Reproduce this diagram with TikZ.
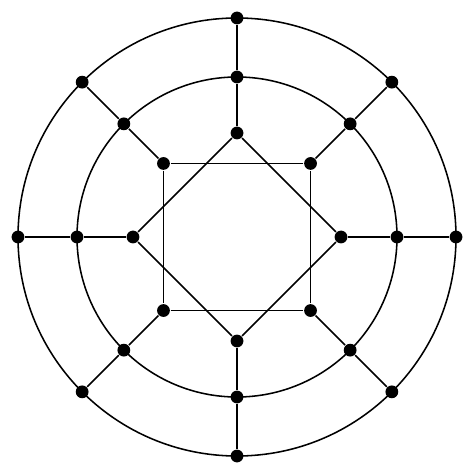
\documentclass[tikz,border=0pt]{standalone}
\usepackage{tikz}
\usetikzlibrary{positioning}

\begin{document}
\begin{tikzpicture}[line width=1.1pt,
vertex/.style={
% The shape:
circle,fill=black,
% The size:
inner sep=0pt,minimum size=3.2mm
}]
\useasboundingbox (-5.925,-5.95) rectangle (5.925,5.925);

% the two rings
\draw (0,0) circle (5.475);
\draw (0,0) circle (4.0);

% outer ring
\node (o1) [vertex] at (0:5.475) {};
\node (o2) [vertex] at (45:5.475) {};
\node (o3) [vertex] at (90:5.475) {};
\node (o4) [vertex] at (135:5.475) {};
\node (o5) [vertex] at (180:5.475) {};
\node (o6) [vertex] at (225:5.475) {};
\node (o7) [vertex] at (270:5.475) {};
\node (o8) [vertex] at (315:5.475) {};
% middle ring
\node (m1) [vertex] at (0:4.0) {};
\node (m2) [vertex] at (45:4.0) {};
\node (m3) [vertex] at (90:4.0) {};
\node (m4) [vertex] at (135:4.0) {};
\node (m5) [vertex] at (180:4.0) {};
\node (m6) [vertex] at (225:4.0) {};
\node (m7) [vertex] at (270:4.0) {};
\node (m8) [vertex] at (315:4.0) {};
% inner diamond and square
\node (i1) [vertex] at (0:2.6) {};
\node (i2) [vertex] at (45:2.6) {};
\node (i3) [vertex] at (90:2.6) {};
\node (i4) [vertex] at (135:2.6) {};
\node (i5) [vertex] at (180:2.6) {};
\node (i6) [vertex] at (225:2.6) {};
\node (i7) [vertex] at (270:2.6) {};
\node (i8) [vertex] at (315:2.6) {};

% spokes
\path (o1) edge (m1) (m1) edge (i1);
\path (o2) edge (m2) (m2) edge (i2);
\path (o3) edge (m3) (m3) edge (i3);
\path (o4) edge (m4) (m4) edge (i4);
\path (o5) edge (m5) (m5) edge (i5);
\path (o6) edge (m6) (m6) edge (i6);
\path (o7) edge (m7) (m7) edge (i7);
\path (o8) edge (m8) (m8) edge (i8);

\draw (i1) -- (i3) -- (i5) -- (i7) -- (i1);
\draw (i2) -- (i4) -- (i6) -- (i8) -- (i2);
\end{tikzpicture}
\end{document}
